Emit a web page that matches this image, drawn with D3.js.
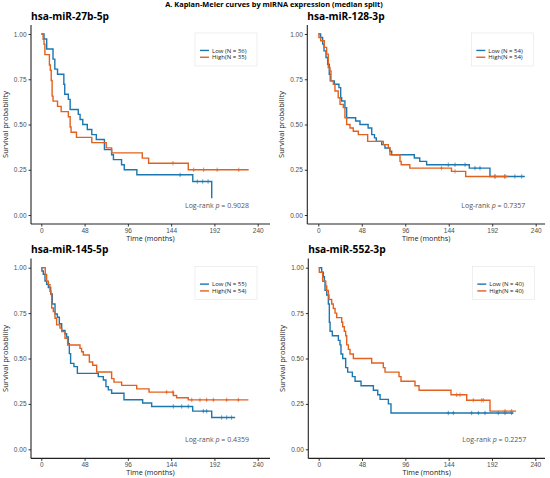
<!DOCTYPE html>
<html>
<head>
<meta charset="utf-8">
<script src="https://cdn.jsdelivr.net/npm/d3@7"></script>
<style>
  body { margin: 0; background: #fff; }
  svg { font-family: "Open Sans", "Noto Sans", sans-serif; }
  .tick text { fill: #4d4d4d; font-size: 6.5px; }
</style>
</head>
<body>
<svg width="550" height="478"></svg>
<script>
// ***Data***
var mainTitle = "A. Kaplan-Meier curves by miRNA expression (median split)";
var panelNames = ["hsa-miR-27b-5p", "hsa-miR-128-3p", "hsa-miR-145-5p", "hsa-miR-552-3p"];
var lowN = [36, 54, 55, 40];
var highN = [35, 54, 54, 40];
var pValues = ["0.9028", "0.7357", "0.4359", "0.2257"];
var xTicks = [0, 48, 96, 144, 192, 240];
var yTicks = [0, 0.25, 0.5, 0.75, 1];

// [time (months), survival]
var low27b = [[0,1],[3,0.972],[6,0.917],[13,0.861],[15,0.806],[18,0.778],[25,0.722],[26,0.667],[30,0.639],[32,0.583],[41,0.556],[43,0.528],[46,0.5],[51,0.472],[56,0.444],[61,0.417],[70,0.361],[78,0.333],[80,0.306],[89,0.278],[92,0.25],[106,0.222],[168,0.185],[189,0.093],[189,0.093]];
var high27b = [[0,1],[2,0.971],[3,0.943],[4,0.886],[9,0.829],[10,0.8],[11,0.743],[12,0.657],[13,0.629],[18,0.6],[22,0.571],[30,0.543],[32,0.486],[33,0.457],[39,0.429],[56,0.4],[72,0.371],[78,0.343],[112,0.314],[119,0.286],[163,0.25],[230,0.25]];
var low27bCensor = [154, 173, 179, 185];
var high27bCensor = [146, 169, 180, 195, 219];

var low128 = [[0,1],[2.6,0.981],[4.8,0.944],[6.3,0.907],[8.5,0.87],[10.3,0.833],[12.1,0.778],[13.2,0.741],[17.7,0.722],[22.8,0.704],[24.7,0.648],[25.8,0.63],[29.4,0.593],[31.3,0.537],[41.2,0.519],[46,0.5],[55,0.481],[59,0.444],[62,0.426],[64,0.407],[70,0.389],[73.6,0.37],[79,0.352],[81,0.333],[106,0.315],[112,0.296],[119.6,0.278],[166.7,0.259],[189.5,0.213],[228,0.213]];
var high128 = [[0,1],[0.7,0.981],[2.6,0.963],[6.6,0.926],[9.2,0.889],[11,0.815],[12.9,0.796],[14,0.741],[16.6,0.722],[18.4,0.685],[22,0.648],[24,0.611],[27.6,0.593],[29.4,0.537],[31.3,0.5],[35,0.481],[38.6,0.463],[44.2,0.444],[54.5,0.407],[71.8,0.389],[77.3,0.37],[79.1,0.333],[90.2,0.296],[91.5,0.278],[101,0.259],[147,0.241],[162.7,0.213],[209.8,0.213]];
var low128Censor = [143.5, 151, 162, 173, 178.5, 195, 206, 217, 224.5];
var high128Censor = [136, 151, 195, 206];

var low145 = [[0,1],[0.7,0.982],[2.2,0.964],[4.1,0.927],[5.9,0.909],[7.8,0.891],[10.4,0.855],[12.2,0.8],[15.2,0.745],[17.8,0.727],[20,0.691],[22.6,0.655],[26.3,0.636],[28.1,0.618],[30,0.582],[31.1,0.527],[32.5,0.473],[36.2,0.455],[40,0.418],[63.2,0.4],[68.8,0.382],[71.7,0.345],[74.3,0.327],[78,0.309],[91.7,0.273],[112.4,0.255],[122.4,0.236],[167.9,0.21],[189,0.175],[215,0.175]];
var high145 = [[0,1],[4.4,0.963],[5.9,0.926],[7.8,0.907],[9.6,0.87],[10.7,0.852],[11.5,0.778],[13.3,0.759],[15.2,0.722],[17,0.685],[20.7,0.667],[22.6,0.648],[26.3,0.611],[29.2,0.574],[42.9,0.556],[44.7,0.537],[46.6,0.519],[53.3,0.481],[57,0.463],[61.4,0.426],[78,0.389],[80.6,0.37],[89.1,0.352],[105.8,0.333],[119.5,0.315],[146.4,0.296],[150.1,0.284],[163,0.272],[229.7,0.272]];
var low145Censor = [146.4, 155.7, 163, 179.7, 183.4, 200, 205.6, 211];
var high145Censor = [139, 146, 166.8, 176, 183.4, 190.8, 205.6, 218.6];

var low552 = [[0,1],[3.3,0.975],[5.2,0.95],[6.3,0.925],[7,0.875],[8.9,0.85],[10.7,0.8],[11.8,0.7],[12.6,0.65],[15.1,0.625],[21.8,0.6],[23.6,0.575],[24.7,0.525],[26.6,0.5],[29.9,0.45],[32.1,0.425],[37.3,0.4],[40.3,0.375],[46.9,0.35],[60.6,0.325],[65.4,0.3],[68,0.275],[77.2,0.25],[80.1,0.2],[215.7,0.2]];
var high552 = [[0,1],[0.7,0.975],[4.4,0.925],[7.8,0.9],[8.9,0.875],[10.7,0.85],[11.4,0.825],[14.4,0.8],[16.2,0.775],[18.1,0.75],[19.9,0.725],[25.5,0.7],[26.6,0.675],[28.4,0.65],[29.9,0.625],[31,0.575],[32.9,0.55],[34.7,0.525],[38.4,0.5],[58.7,0.475],[71.6,0.45],[73.5,0.425],[89,0.4],[91.2,0.375],[106.7,0.35],[111.2,0.325],[146.6,0.3],[164,0.27],[189.8,0.21],[218.6,0.21]];
var low552Censor = [143.6, 149.2, 169.5, 176.9, 184.3, 199, 206.4, 213.8];
var high552Censor = [152.9, 156.6, 171.3, 180.6, 182.4, 206.4, 213.8];

var lowCurves = [low27b, low128, low145, low552];
var highCurves = [high27b, high128, high145, high552];
var lowCensors = [low27bCensor, low128Censor, low145Censor, low552Censor];
var highCensors = [high27bCensor, high128Censor, high145Censor, high552Censor];

var lowColor = "#1c77b0";
var highColor = "#e2611e";

// ***Layout*** (axis line x, x pixel of month 0 and 240, pixel of y = 1 and y = 0)
var layout = [
  {axisX: 31,    right: 270, x0: 41.3,  x1: 257.7, y1: 34,    y0: 215},
  {axisX: 307.3, right: 545, x0: 318.3, x1: 535.7, y1: 34,    y0: 215},
  {axisX: 31,    right: 270, x0: 41.3,  x1: 257.7, y1: 267.7, y0: 449.3},
  {axisX: 308.3, right: 545, x0: 318.7, x1: 535.3, y1: 267.7, y0: 449.3}
];

var svg = d3.select("svg");

svg.append("text")
  .attr("x", 274)
  .attr("y", 7.4)
  .attr("text-anchor", "middle")
  .style("font-size", "7.4px")
  .style("font-weight", "bold")
  .text(mainTitle);

layout.forEach(function(L, i) {
  var g = svg.append("g");
  var unit = (L.y0 - L.y1);
  var top = L.y1 - 0.05 * unit;
  var bottom = L.y0 + 0.05 * unit;

  var x = d3.scaleLinear().domain([0, 240]).range([L.x0, L.x1]);
  var y = d3.scaleLinear().domain([0, 1]).range([L.y0, L.y1]);

  // panel title
  g.append("text")
    .attr("x", L.axisX)
    .attr("y", top - 5.2)
    .style("font-size", "10.2px")
    .style("font-weight", "bold")
    .text(panelNames[i]);

  // axes
  var xAxis = g.append("g")
    .attr("transform", "translate(0," + bottom + ")")
    .call(d3.axisBottom(x).tickValues(xTicks).tickSize(2.5).tickSizeOuter(0).tickPadding(1.5));
  xAxis.select(".domain").remove();
  xAxis.selectAll(".tick line").attr("stroke", "#333");

  var yAxis = g.append("g")
    .attr("transform", "translate(" + L.axisX + ",0)")
    .call(d3.axisLeft(y).tickValues(yTicks).tickFormat(d3.format(".2f")).tickSize(2.5).tickPadding(2));
  yAxis.select(".domain").remove();
  yAxis.selectAll(".tick line").attr("stroke", "#333");

  g.append("line")
    .attr("x1", L.axisX).attr("x2", L.right)
    .attr("y1", bottom).attr("y2", bottom)
    .attr("stroke", "#222").attr("stroke-width", 1.1);
  g.append("line")
    .attr("x1", L.axisX).attr("x2", L.axisX)
    .attr("y1", top).attr("y2", bottom)
    .attr("stroke", "#222").attr("stroke-width", 1.1);

  g.append("text")
    .attr("x", (L.axisX + L.right) / 2)
    .attr("y", bottom + 16.5)
    .attr("text-anchor", "middle")
    .style("font-size", "7.2px")
    .style("fill", "#222")
    .text("Time (months)");

  g.append("text")
    .attr("transform", "translate(" + (L.axisX - 23) + "," + ((top + bottom) / 2) + ") rotate(-90)")
    .attr("text-anchor", "middle")
    .style("font-size", "7.5px")
    .style("fill", "#222")
    .text("Survival probability");

  // curves
  var line = d3.line()
    .x(function(d) { return x(d[0]); })
    .y(function(d) { return y(d[1]); })
    .curve(d3.curveStepAfter);

  // survival at time t, for placing censor marks
  function survAt(curve, t) {
    var s = 1;
    curve.forEach(function(d) { if (d[0] <= t) s = d[1]; });
    return s;
  }

  [[lowCurves[i], lowCensors[i], lowColor], [highCurves[i], highCensors[i], highColor]].forEach(function(c) {
    g.append("path")
      .datum(c[0])
      .attr("d", line)
      .attr("fill", "none")
      .attr("stroke", c[2])
      .attr("stroke-width", 1.4);

    g.selectAll(null)
      .data(c[1])
      .enter().append("path")
      .attr("d", function(t) {
        var cx = x(t), cy = y(survAt(c[0], t));
        return "M" + cx + "," + (cy - 2.2) + "V" + (cy + 2.2) + "M" + (cx - 1.6) + "," + cy + "H" + (cx + 1.6);
      })
      .attr("stroke", c[2])
      .attr("stroke-width", 0.7)
      .attr("fill", "none");
  });

  // legend
  var lx = L.axisX + 164, ly = top + 8;
  var lg = g.append("g").attr("transform", "translate(" + lx + "," + ly + ")");
  lg.append("rect")
    .attr("width", 62)
    .attr("height", 33)
    .attr("fill", "#fff")
    .attr("stroke", "#e4e4e4")
    .attr("stroke-width", 0.6);
  var labels = ["Low (N = " + lowN[i] + ")", "High(N = " + highN[i] + ")"];
  [lowColor, highColor].forEach(function(col, k) {
    var yy = 17.5 + k * 6.8;
    lg.append("line")
      .attr("x1", 5).attr("x2", 14)
      .attr("y1", yy).attr("y2", yy)
      .attr("stroke", col).attr("stroke-width", 1.4);
    lg.append("text")
      .attr("x", 17)
      .attr("y", yy + 2.1)
      .style("font-size", "6px")
      .style("fill", "#222")
      .text(labels[k]);
  });

  // log-rank p
  var pt = g.append("text")
    .attr("x", L.axisX + 218)
    .attr("y", y(0) - 7)
    .attr("text-anchor", "end")
    .style("font-size", "7px")
    .style("fill", "#555");
  pt.append("tspan").text("Log-rank ");
  pt.append("tspan").style("font-style", "italic").text("p");
  pt.append("tspan").text(" = " + pValues[i]);
});
</script>
</body>
</html>
